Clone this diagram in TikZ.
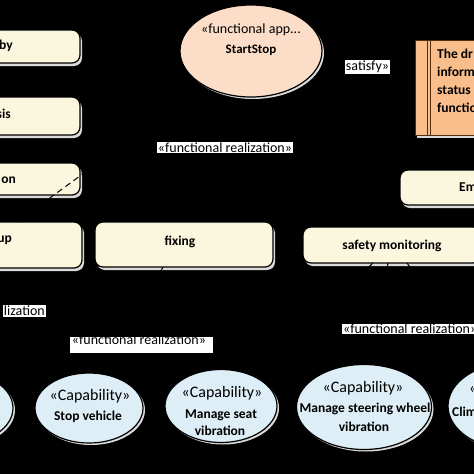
\documentclass[tikz,border=0pt]{standalone}
\usepackage{fontspec}
\setmainfont{Carlito}
\usetikzlibrary{shapes.geometric,shadows,arrows.meta}
\definecolor{cream}{RGB}{251,246,222}
\definecolor{peach}{RGB}{252,222,200}
\definecolor{orng}{RGB}{250,190,140}
\definecolor{lblue}{RGB}{222,238,246}
\definecolor{shd}{RGB}{218,218,218}
\definecolor{brn}{RGB}{80,45,20}
\tikzset{
  boxst/.style={draw=black, line width=1.2pt, fill=cream, rounded corners=8pt, inner sep=0pt,
    drop shadow={shadow xshift=2pt, shadow yshift=-3pt, fill=shd, opacity=1}},
  ellst/.style={ellipse, draw=black, line width=1.2pt, inner sep=0pt,
    drop shadow={shadow xshift=2pt, shadow yshift=-2pt, fill=shd, opacity=1}},
  btxt/.style={font=\fontsize{13.5}{16}\selectfont\bfseries, inner sep=0pt, text=black},
  stxt/.style={font=\fontsize{16}{18}\selectfont, inner sep=0pt, text=black},
  lbl/.style={fill=white, font=\fontsize{14}{16}\selectfont, inner xsep=1pt, inner ysep=1pt, text=black},
  conn/.style={draw=black, line width=1pt},
}
\begin{document}
\begin{tikzpicture}[x=1pt,y=-1pt]
\useasboundingbox (0,0) rectangle (474,474);
\fill[black] (0,0) rectangle (474,474);
\begin{scope}
\clip (0,0) rectangle (474,474);
% left boxes
\node[boxst, minimum width=160pt, minimum height=33pt] (by) at (0,46.5) {};
\node[btxt, anchor=east] (bytx) at (13,46) {by};
\node[boxst, minimum width=160pt, minimum height=38pt] (sis) at (0,116) {};
\node[btxt, anchor=east] (sistx) at (11,114) {sis};
\node[boxst, minimum width=160pt, minimum height=32pt] (on) at (0,179) {};
\node[btxt, anchor=east] (ontx) at (16,180) {on};
\node[boxst, minimum width=162pt, minimum height=46pt] (up) at (1,245) {};
\node[btxt, anchor=east] (uptx) at (12,240) {up};
% middle / right boxes
\node[boxst, minimum width=178pt, minimum height=45pt] (fix) at (184,244.5) {};
\node[btxt] (fixtx) at (180,242) {fixing};
\node[boxst, minimum width=160pt, minimum height=35pt] (em) at (480,187.5) {};
\node[btxt, anchor=west] (emtx) at (459,187) {Em};
\node[boxst, minimum width=178pt, minimum height=36pt] (safe) at (392,245) {};
\node[btxt] (safetx) at (392,246) {safety monitoring};
% requirement box
\node[draw=brn, line width=1pt, fill=orng, minimum width=150pt, minimum height=95pt, inner sep=0pt,
  drop shadow={shadow xshift=2pt, shadow yshift=-3pt, fill=shd, opacity=1}] (req) at (490,87.5) {};
\draw[brn, line width=1pt] (427,40) -- (427,135);
\draw[brn, line width=1pt] (430,40) -- (430,135);
\node[btxt, anchor=west] (rq1) at (437,54) {The dr};
\node[btxt, anchor=west] (rq2) at (437,72) {inform};
\node[btxt, anchor=west] (rq3) at (437,90) {status};
\node[btxt, anchor=west] (rq4) at (437,108) {functio};
% StartStop
\node[ellst, fill=peach, minimum width=142pt, minimum height=92pt] (ss) at (251,51) {};
\node[font=\fontsize{14}{16}\selectfont, inner sep=0pt] (sst1) at (251,30) {«functional app...};
\node[btxt, font=\fontsize{13}{15}\selectfont\bfseries] (sst2) at (251,50) {StartStop};
% capabilities
\node[ellst, fill=lblue, minimum width=108pt, minimum height=72pt] (cap0) at (-41,408) {};
\node[ellst, fill=lblue, minimum width=108pt, minimum height=70pt] (cap1) at (89,408) {};
\node[stxt] (c1a) at (90,396) {«Capability»};
\node[btxt] (c1b) at (88,417) {Stop vehicle};
\node[ellst, fill=lblue, minimum width=112pt, minimum height=73pt] (cap2) at (221,406) {};
\node[stxt] (c2a) at (222,393) {«Capability»};
\node[btxt] (c2b) at (221,415) {Manage seat};
\node[btxt] (c2c) at (220,431) {vibration};
\node[ellst, fill=lblue, minimum width=135pt, minimum height=85pt] (cap3) at (364,407) {};
\node[stxt] (c3a) at (363,388) {«Capability»};
\node[btxt] (c3b) at (365,409) {Manage steering wheel};
\node[btxt] (c3c) at (364,427) {vibration};
\node[ellst, fill=lblue, minimum width=130pt, minimum height=87pt] (cap4) at (513,406) {};
\node[stxt, anchor=west] (c4a) at (469,390) {«};
\node[btxt, anchor=west] (c4b) at (452,412) {Clim};
% connectors
\coordinate (dashst) at (17,222);
\draw[conn, dash pattern=on 6pt off 4pt] (dashst) -- (ss);
\coordinate (fixin) at (163,267);
\draw[conn] (cap1) -- (fixin);
\coordinate (sf1) at (373,263);
\coordinate (sf2) at (388,263);
\coordinate (sf3) at (407,263);
\draw[conn] (cap2) -- (sf1);
\draw[conn] (cap3) -- (sf2);
\draw[conn] (cap4) -- (sf3);
% labels
\node[lbl] (fr1) at (225,147.5) {«functional realization»};
\node[lbl] (sat) at (367.5,67) {satisfy»};
\node[lbl, anchor=west, inner ysep=0.5pt] (fr3) at (342,329) {«functional realization»};
\node[lbl, anchor=east] (fr0) at (46,311) {lization};
\begin{scope}
\clip (70,337) rectangle (213,353);
\fill[white] (70,337) rectangle (213,353);
\node[font=\fontsize{14}{16}\selectfont, inner sep=0pt, anchor=base] (fr2) at (139,344) {«functional realization»};
\end{scope}
\end{scope}
\end{tikzpicture}
\end{document}
